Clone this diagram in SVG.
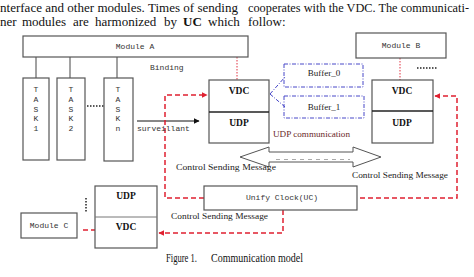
<svg xmlns="http://www.w3.org/2000/svg" width="474" height="277" viewBox="0 0 474 277">
<defs>
<marker id="ar" viewBox="0 0 10 10" refX="9" refY="5" markerWidth="6" markerHeight="6" orient="auto" markerUnits="userSpaceOnUse"><path d="M0,0 L10,5 L0,10 z" fill="#e02030"/></marker>
<marker id="ab" viewBox="0 0 10 10" refX="9" refY="5" markerWidth="6" markerHeight="6" orient="auto" markerUnits="userSpaceOnUse"><path d="M0,0 L10,5 L0,10 z" fill="#111"/></marker>
</defs>
<style>
.body{font-family:"Liberation Serif","Times New Roman",serif;font-size:13px;fill:#111}
.box{fill:#fff;stroke:#555;stroke-width:1.2}
.mono{font-family:"Liberation Mono","DejaVu Sans Mono",monospace;font-size:8px;fill:#333}
.bold{font-family:"Liberation Serif",serif;font-size:9.5px;font-weight:bold;fill:#111}
.ser{font-family:"Liberation Serif",serif;font-size:9px;fill:#222}
.red{fill:none;stroke:#e02030;stroke-width:1.5;stroke-dasharray:5,3}
.rdot{fill:none;stroke:#e03040;stroke-width:1;stroke-dasharray:1.5,1.5}
.blue{fill:none;stroke:#4848c8;stroke-width:1;stroke-dasharray:4,1.5,1,1.5}
.ln{fill:none;stroke:#444;stroke-width:1}
</style>
<rect width="474" height="277" fill="#fff"/>
<g id="page-text">
<text class="body" x="0" y="12" textLength="238" lengthAdjust="spacingAndGlyphs">nterface and other modules. Times of sending</text>
<text class="body" x="0" y="25.5">ner</text>
<text class="body" x="22" y="25.5">modules</text>
<text class="body" x="73" y="25.5">are</text>
<text class="body" x="95" y="25.5">harmonized</text>
<text class="body" x="164" y="25.5">by</text>
<text class="body" x="183" y="25.5" font-weight="bold">UC</text>
<text class="body" x="208" y="25.5">which</text>
<text class="body" x="248" y="12" textLength="221" lengthAdjust="spacingAndGlyphs">cooperates with the VDC. The communicati-</text>
<text class="body" x="248" y="25.5">follow:</text>
<text class="body" x="166" y="262" font-size="10" textLength="31" lengthAdjust="spacingAndGlyphs">Figure 1.</text>
<text class="body" x="211" y="262" font-size="10" textLength="92" lengthAdjust="spacingAndGlyphs">Communication model</text>
</g>
<g id="connectors">
<line class="ln" x1="36" y1="57" x2="36" y2="78"/>
<line class="ln" x1="70" y1="57" x2="70" y2="78"/>
<line class="ln" x1="117" y1="57" x2="117" y2="78"/>
<line x1="87" y1="106" x2="108" y2="106" stroke="#222" stroke-width="1.3" stroke-dasharray="1.5,1.5"/>
<line x1="137" y1="121" x2="199" y2="121" stroke="#111" stroke-width="1" marker-end="url(#ab)"/>
<line class="rdot" x1="237" y1="57" x2="237" y2="80"/>
<line class="rdot" x1="400" y1="58" x2="400" y2="80"/>
<line x1="417" y1="68" x2="437" y2="68" stroke="#222" stroke-width="1.3" stroke-dasharray="1.5,1.5"/>
<line x1="86" y1="198" x2="86" y2="213" stroke="#222" stroke-width="1.5" stroke-dasharray="1.5,1.5"/>
<path class="red" d="M204,198 H165 V95 H207" marker-end="url(#ar)"/>
<path class="red" d="M360,198 H457 V96 H435" marker-end="url(#ar)"/>
<path class="red" d="M283,210 V233 H159" marker-end="url(#ar)"/>
<line class="red" x1="83" y1="230" x2="95" y2="230"/>
<line class="blue" x1="270" y1="94" x2="285" y2="77"/>
<line class="blue" x1="270" y1="94" x2="285" y2="107"/>
<path d="M240,157 L269,147 V152 H353 V147 L381,157 L353,167 V162 H269 V167 Z" fill="#fff" stroke="#555" stroke-width="1"/>
<line x1="276" y1="159.5" x2="350" y2="159.5" stroke="#aaa" stroke-width="1" stroke-dasharray="4,4"/>
</g>
<g id="module-a">
<rect class="box" x="23" y="36" width="225" height="21"/>
<text class="mono" x="135" y="49" text-anchor="middle">Module A</text>
</g>
<text id="binding" class="mono" x="150" y="70">Binding</text>
<g id="task1">
<rect class="box" x="23" y="78" width="26" height="82"/>
<text class="mono" text-anchor="middle"><tspan x="36" y="92">T</tspan><tspan x="36" y="102">A</tspan><tspan x="36" y="112">S</tspan><tspan x="36" y="121">K</tspan><tspan x="36" y="131">1</tspan></text>
</g>
<g id="task2">
<rect class="box" x="57" y="78" width="28" height="82"/>
<text class="mono" text-anchor="middle"><tspan x="71" y="92">T</tspan><tspan x="71" y="102">A</tspan><tspan x="71" y="112">S</tspan><tspan x="71" y="121">K</tspan><tspan x="71" y="131">2</tspan></text>
</g>
<g id="taskn">
<rect class="box" x="104" y="78" width="29" height="83"/>
<text class="mono" text-anchor="middle"><tspan x="118" y="92">T</tspan><tspan x="118" y="102">A</tspan><tspan x="118" y="112">S</tspan><tspan x="118" y="121">K</tspan><tspan x="118" y="131">n</tspan></text>
</g>
<text id="surveillant" class="mono" x="137" y="131">surveillant</text>
<g id="vdc-a">
<rect class="box" x="209" y="80" width="60" height="63"/>
<line x1="209" y1="112" x2="269" y2="112" stroke="#222" stroke-width="1.5"/>
<text class="bold" x="239" y="94" text-anchor="middle">VDC</text>
<text class="bold" x="239" y="126" text-anchor="middle">UDP</text>
</g>
<g id="buffer0">
<rect x="284" y="64" width="79" height="23" fill="none" class="blue"/>
<text class="ser" x="324" y="76" text-anchor="middle">Buffer_0</text>
</g>
<g id="buffer1">
<rect x="284" y="96" width="80" height="22" fill="none" class="blue"/>
<text class="ser" x="324" y="110" text-anchor="middle">Buffer_1</text>
</g>
<text id="udp-comm" class="ser" x="273" y="137" style="fill:#6a2828" textLength="77" lengthAdjust="spacingAndGlyphs">UDP communication</text>
<g id="module-b">
<rect class="box" x="356" y="33" width="90" height="25"/>
<text class="mono" x="401" y="48" text-anchor="middle">Module B</text>
</g>
<g id="vdc-b">
<rect class="box" x="372" y="80" width="61" height="63"/>
<line x1="372" y1="111" x2="433" y2="111" stroke="#222" stroke-width="1.5"/>
<text class="bold" x="402" y="94" text-anchor="middle">VDC</text>
<text class="bold" x="402" y="126" text-anchor="middle">UDP</text>
</g>
<text class="ser" x="176" y="170" textLength="100" lengthAdjust="spacingAndGlyphs">Control Sending Message</text>
<text class="ser" x="352" y="178" textLength="96" lengthAdjust="spacingAndGlyphs">Control Sending Message</text>
<text class="ser" x="171" y="219" textLength="97" lengthAdjust="spacingAndGlyphs">Control Sending Message</text>
<g id="uc">
<rect class="box" x="204" y="186" width="153" height="24"/>
<text class="mono" x="282" y="200" text-anchor="middle">Unify Clock(UC)</text>
</g>
<g id="vdc-c">
<rect class="box" x="95" y="186" width="62" height="62"/>
<line x1="95" y1="217" x2="157" y2="217" stroke="#777" stroke-width="1"/>
<text class="bold" x="126" y="199" text-anchor="middle">UDP</text>
<text class="bold" x="126" y="230" text-anchor="middle">VDC</text>
</g>
<g id="module-c">
<rect class="box" x="21" y="213" width="56" height="25"/>
<text class="mono" x="49" y="228" text-anchor="middle">Module C</text>
</g>
</svg>
